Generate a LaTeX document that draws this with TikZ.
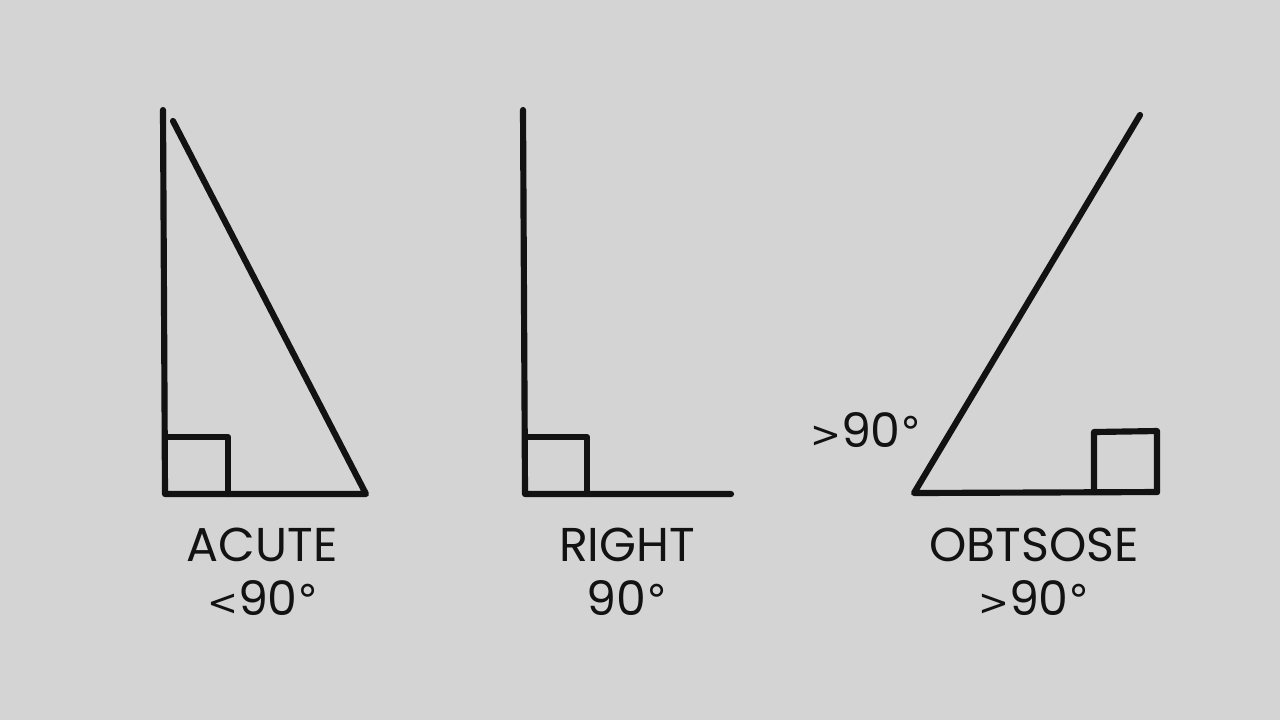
\documentclass[tikz,border=0pt]{standalone}
\usepackage{fontspec}
\setmainfont{Poppins}
\newfontfamily\symfont{DejaVu Sans}
\usetikzlibrary{positioning}
\definecolor{bggray}{RGB}{212,212,212}
\definecolor{ink}{RGB}{18,18,18}
\newcommand{\degsign}{{\symfont\fontsize{12}{14}\selectfont °}}
\newcommand{\lesssign}{{\symfont\fontsize{10.5}{14}\selectfont <}}
\newcommand{\moresign}{{\symfont\fontsize{10.5}{14}\selectfont >}}

\begin{document}
\begin{tikzpicture}[x=0.01cm,y=-0.01cm,
    edge/.style={draw=ink,line width=1.75pt,line cap=round,line join=round},
    nametext/.style={text=ink,font=\fontsize{13.5}{16}\selectfont,inner sep=0pt,anchor=base}]
  \fill[bggray] (0,0) rectangle (1280,720);
  \useasboundingbox (0,0) rectangle (1280,720);

  % acute triangle
  \coordinate (acTop) at (163,110);
  \coordinate (acHyp) at (173,121);
  \coordinate (acO) at (165,494);
  \coordinate (acR) at (366,494);
  \draw[edge] (acTop) -- (acO) -- (acR) -- (acHyp);
  \draw[edge] (acO) ++(2,-57) -- ++(61,0) -- ++(0,57);
  \node[nametext] (acName) at (262,561) {ACUTE};
  \node[nametext] (acDeg) at (263,615) {\lesssign90\degsign};

  % right angle
  \coordinate (rtTop) at (523,110);
  \coordinate (rtO) at (525,494);
  \coordinate (rtR) at (731,494);
  \draw[edge] (rtTop) -- (rtO) -- (rtR);
  \draw[edge] (rtO) ++(0,-57) -- ++(62,0) -- ++(0,57);
  \node[nametext] (rtName) at (627,561) {RIGHT};
  \node[nametext] (rtDeg) at (627,615) {90\degsign};

  % obtuse angle
  \coordinate (obTop) at (1140,115);
  \coordinate (obO) at (914,493);
  \coordinate (obR) at (1157,492);
  \draw[edge] (obTop) -- (obO) -- (obR);
  \draw[edge] (1094,492) -- (1094,432) -- (1157,431) -- (obR);
  \node[nametext] (obSide) at (866,447) {\moresign90\degsign};
  \node[nametext] (obName) at (1034,561) {OBTSOSE};
  \node[nametext] (obDeg) at (1034,615) {\moresign90\degsign};
\end{tikzpicture}
\end{document}
